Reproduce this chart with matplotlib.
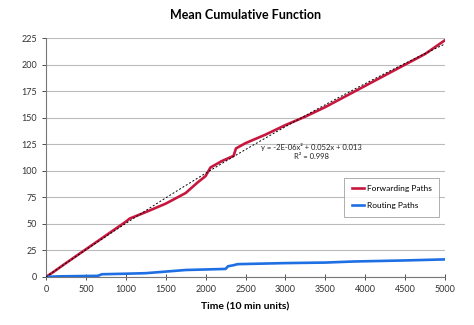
import numpy as np
import matplotlib
matplotlib.use("Agg")
import matplotlib.pyplot as plt

plt.rcParams['font.family'] = ['Lato', 'DejaVu Sans']

fwd_x = [0, 100, 250, 500, 750, 1000, 1050, 1250, 1500, 1750, 1900, 2000, 2060, 2200, 2350, 2380,
         2500, 2750, 3000, 3250, 3500, 3750, 4000, 4250, 4500, 4750, 5000]
fwd_y = [0, 5, 13, 26, 39, 52, 55, 61, 69, 79, 89, 95, 103, 109, 114, 121,
         126, 134, 143, 151, 160, 170, 180, 190, 200, 210, 223]

rt_x = [0, 150, 650, 700, 1000, 1250, 1500, 1750, 2000, 2250, 2280, 2350, 2400, 2700, 3000,
        3500, 3850, 4500, 5000]
rt_y = [0, 0.5, 1, 2.5, 3, 3.5, 5, 6.5, 7, 7.5, 10, 11, 12, 12.5, 13,
        13.5, 14.5, 15.5, 16.5]

x_ticks = list(range(0, 5001, 500))
y_ticks = list(range(0, 226, 25))

fig = plt.figure(figsize=(4.74, 3.25), dpi=100)
ax = fig.add_axes([0.097, 0.148, 0.842, 0.735])

ax.plot(fwd_x, fwd_y, color='#C8173F', lw=1.9, label='Forwarding Paths', zorder=3)
ax.plot(rt_x, rt_y, color='#1E6FE3', lw=1.9, label='Routing Paths', zorder=3)

coef = np.polyfit(fwd_x, fwd_y, 2)
xt = np.linspace(0, 5000, 200)
ax.plot(xt, np.polyval(coef, xt), color='black', lw=0.7, ls=(0, (2, 2)), zorder=4)

ax.text(0.665, 0.525, "y = -2E-06x² + 0.052x + 0.013\nR² = 0.998", transform=ax.transAxes,
        ha='center', va='center', fontsize=5.5, linespacing=1.3, color='#222222')

ax.set_xlim(0, 5000)
ax.set_ylim(0, 225)
ax.set_xticks(x_ticks)
ax.set_yticks(y_ticks)
ax.tick_params(labelsize=6.5, length=3, width=0.6, colors='#333333')
ax.tick_params(axis='x', direction='inout', length=5)
ax.yaxis.grid(True, color='#BBBBBB', lw=0.8)
ax.set_axisbelow(True)
for s in ['top', 'right']:
    ax.spines[s].set_visible(False)
for s in ['left', 'bottom']:
    ax.spines[s].set_color('#777777')
    ax.spines[s].set_linewidth(0.8)

ax.set_title('Mean Cumulative Function', fontsize=9, fontweight='bold', pad=14)
ax.set_xlabel('Time (10 min units)', fontsize=7.5, fontweight='bold', labelpad=6)

leg = ax.legend(loc='upper right', bbox_to_anchor=(0.985, 0.415), fontsize=6,
                fancybox=False, frameon=True, handlelength=1.5, borderpad=0.9,
                labelspacing=1.2, handletextpad=0.3, borderaxespad=0)
leg.get_frame().set_edgecolor('#999999')
leg.get_frame().set_linewidth(0.7)

fig.savefig('out.png', dpi=100)
